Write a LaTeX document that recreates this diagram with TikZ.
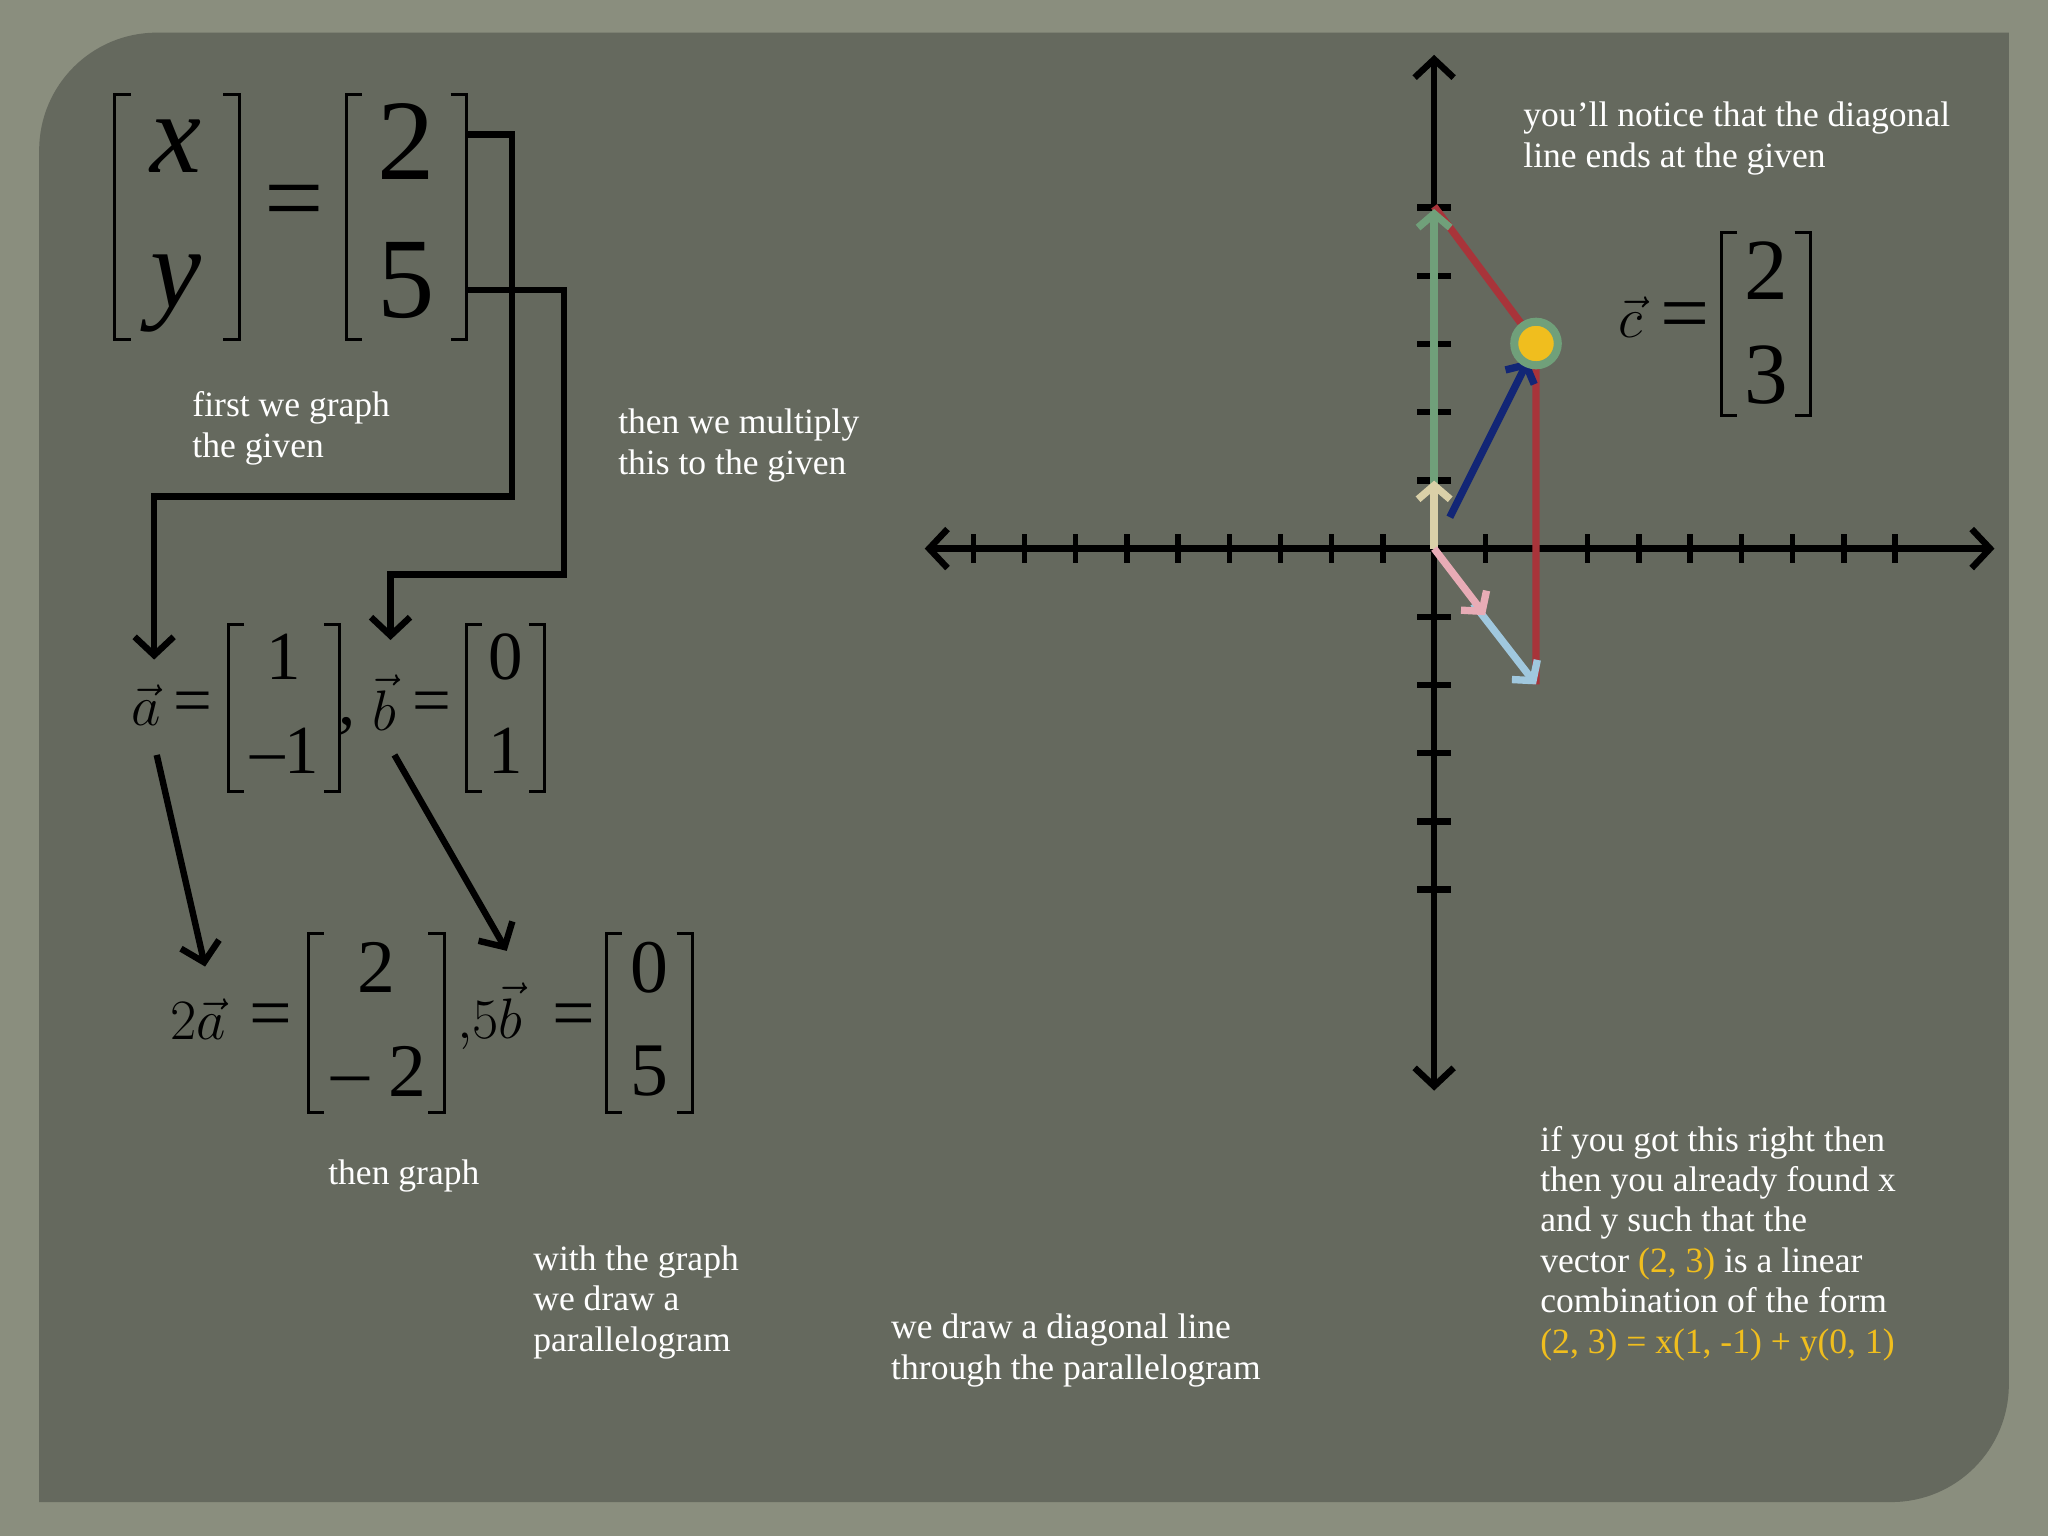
\documentclass[tikz,border=0pt]{standalone}
\usepackage{fontspec}
\setmainfont{Liberation Serif}
\usetikzlibrary{arrows.meta}
\definecolor{bgout}{RGB}{138,142,126}
\definecolor{panel}{RGB}{101,105,94}
\definecolor{ylw}{RGB}{240,190,30}
\definecolor{vgreen}{RGB}{112,160,122}
\definecolor{vcream}{RGB}{218,208,168}
\definecolor{vblue}{RGB}{18,38,118}
\definecolor{vred}{RGB}{168,52,58}
\definecolor{vpink}{RGB}{232,172,182}
\definecolor{vlblue}{RGB}{160,200,222}
\tikzset{
 txt/.style={text=white,font=\fontsize{15.5}{17.6}\selectfont,align=left,anchor=west,inner sep=0},
 brk/.style={line width=1.3pt,black},
 conn/.style={line width=2.8pt,black,-{Straight Barb[length=8pt,width=17pt,line width=2.8pt]}},
 axis/.style={line width=2.8pt,black,{Straight Barb[length=8pt,width=17pt,line width=2.8pt]}-{Straight Barb[length=8pt,width=17pt,line width=2.8pt]}},
 vec/.style={line width=3.2pt,-{Straight Barb[length=6pt,width=14pt,line width=3.2pt]}},
 big/.style={font=\fontsize{50}{50}\selectfont,inner sep=0},
 mid/.style={font=\fontsize{30}{30}\selectfont,inner sep=0},
 row/.style={font=\fontsize{33}{33}\selectfont,inner sep=0},
}
\newcommand{\mybrk}[4]{% left x, right x, top y, bottom y
 \draw[brk] (#1+12,#3)--(#1,#3)--(#1,#4)--(#1+12,#4);
 \draw[brk] (#2-12,#3)--(#2,#3)--(#2,#4)--(#2-12,#4);}
\begin{document}
\begin{tikzpicture}[x=0.02cm,y=-0.02cm]
\fill[bgout] (0,0) rectangle (1568,1176);
\fill[panel] (30,115) arc[start angle=180,end angle=270,radius=90] -- (1538,25) -- (1538,1060) arc[start angle=0,end angle=90,radius=90] -- (30,1150) -- cycle;
% top matrices
\mybrk{88}{183}{72}{260}
\mybrk{265}{357}{72}{260}
\node[big,font=\fontsize{50}{50}\selectfont\itshape] (x) at (135,112) {x};
\node[big,font=\fontsize{50}{50}\selectfont\itshape] (y) at (135,225) {y};
\node[big,font=\fontsize{46}{46}\selectfont] (eq1) at (225,160) {=};
\node[big] (n2) at (311,108) {2};
\node[big] (n5) at (311,215) {5};
\coordinate (t1) at (357,103);
\coordinate (t2) at (357,222);
% second row
\node[mid] (a) at (112,540) {$\vec a$};
\node[mid] (eqa) at (148,542) {=};
\mybrk{175}{260}{478}{606}
\node[mid] (a1) at (217,503) {1};
\node[mid] (a2) at (218,575) {–1};
\node[mid] (comma1) at (266,556) {,};
\node[mid] (b) at (294,538) {$\vec b$};
\node[mid] (eqb) at (331,542) {=};
\mybrk{357}{417}{478}{606}
\node[mid] (b1) at (387,503) {0};
\node[mid] (b2) at (387,575) {1};
% third row
\node[row] (aa) at (152,780) {$2\vec a$};
\node[row] (eqaa) at (207,782) {=};
\mybrk{236}{340}{715}{852}
\node[row] (c1) at (288,741) {2};
\node[row] (c2) at (290,820) {– 2};
\node[row] (bb) at (375,778) {$,\!5\vec b$};
\node[row] (eqbb) at (439,782) {=};
\mybrk{464}{530}{715}{852}
\node[row] (d1) at (497,741) {0};
\node[row] (d2) at (497,820) {5};
% connectors
\coordinate (p1) at (118,505);
\coordinate (p2) at (299,490);
\draw[conn] (t1) -- (392,103) -- (392,380) -- (118,380) -- (p1);
\draw[conn] (t2) -- (432,222) -- (432,440) -- (299,440) -- (p2);
\coordinate (q1) at (120,578); \coordinate (q1e) at (157,740);
\coordinate (q2) at (302,578); \coordinate (q2e) at (388,728);
\draw[conn] (q1) -- (q1e);
\draw[conn] (q2) -- (q2e);
% texts
\node[txt] (tx1) at (147,328) {first we graph\\the given};
\node[txt] (tx2) at (473,341) {then we multiply\\this to the given};
\node[txt] (tx3) at (251,900) {then graph};
\node[txt] (tx4) at (408,997) {with the graph\\we draw a\\parallelogram};
\node[txt] (tx5) at (682,1034) {we draw a diagonal line\\through the parallelogram};
\node[txt] (tx6) at (1166,106) {you’ll notice that the diagonal\\line ends at the given};
\node[txt] (tx7) at (1179,952) {if you got this right then\\then you already found x\\and y such that the\\vector \textcolor{ylw}{(2, 3)} is a linear\\combination of the form\\\textcolor{ylw}{(2, 3) = x(1, -1) + y(0, 1)}};
% axes
\coordinate (xl) at (708,420); \coordinate (xr) at (1527,420);
\coordinate (yt) at (1098,42); \coordinate (yb) at (1098,835);
\draw[axis] (xl) -- (xr);
\draw[axis] (yb) -- (yt);
\foreach \i in {-9,...,-1,1,2,...,9} \draw[line width=2.4pt] (1098+39.2*\i,409) -- (1098+39.2*\i,431);
\foreach \j in {-5,...,-1,1,2,...,5} \draw[line width=2.8pt] (1085,420+52.2*\j) -- (1111,420+52.2*\j);
% vectors
\coordinate (O) at (1098,420);
\coordinate (A) at (1137,471);
\coordinate (AA) at (1176,524);
\coordinate (B) at (1098,368);
\coordinate (BB) at (1098,160);
\coordinate (C) at (1176,263);
\draw[vred,line width=3.2pt] (1098,158) -- (C) -- (1176,524);
\draw[vec,vgreen] (O) -- (BB);
\draw[vec,vcream] (O) -- (B);
\draw[vec,vlblue] (1128,462) -- (AA);
\draw[vec,vpink] (O) -- (A);
\draw[vec,vblue] (1110,396) -- (1170,276);
\node[circle,fill=ylw,draw=vgreen,line width=3.5pt,minimum size=19,inner sep=0] (dot) at (C) {};
% c
\node[row,font=\fontsize{38}{38}\selectfont] (c) at (1248,243) {$\vec c$};
\node[row,font=\fontsize{38}{38}\selectfont] (eqc) at (1290,247) {=};
\mybrk{1318}{1386}{178}{318}
\node[row,font=\fontsize{38}{38}\selectfont] (e1) at (1352,207) {2};
\node[row,font=\fontsize{38}{38}\selectfont] (e2) at (1352,287) {3};
\end{tikzpicture}
\end{document}
